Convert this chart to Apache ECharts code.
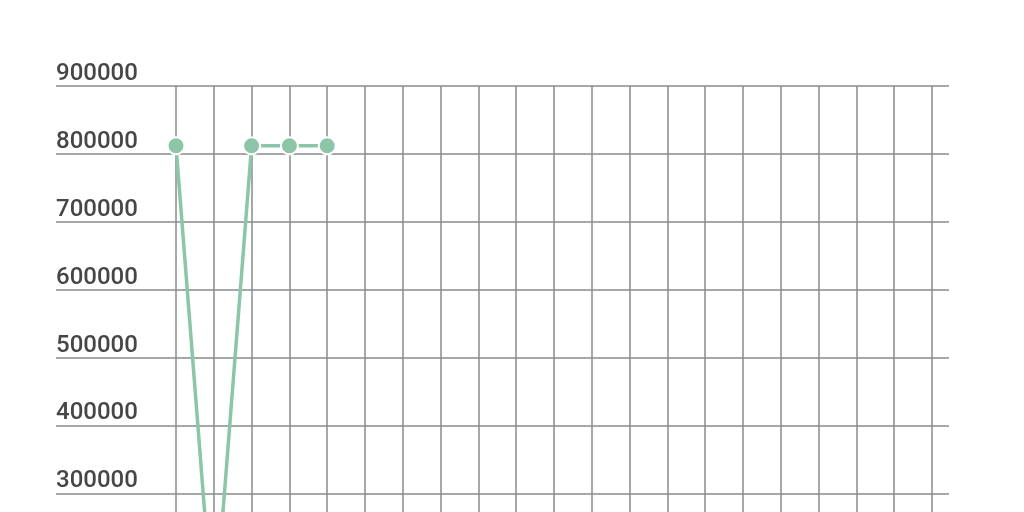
<!DOCTYPE html>
<html>
<head>
<meta charset="utf-8">
<script src="https://cdn.jsdelivr.net/npm/echarts@6/dist/echarts.min.js"></script>
<style>
html, body { margin: 0; padding: 0; overflow: hidden; background: #fff; }
#chart { width: 1024px; height: 760px; }
</style>
</head>
<body>
<div id="chart"></div>
<script>
const categories = ['1','2','3','4','5','6','7','8','9','10','11','12','13','14','15','16','17','18','19','20','21'];
const values = [812000, 100000, 812000, 812000, 812000];
const yMin = 0;
const yMax = 900000;
const yInterval = 100000;

const chart = echarts.init(document.getElementById('chart'), null, { renderer: 'canvas' });
const gridColor = '#8a8a8a';
chart.setOption({
  animation: false,
  backgroundColor: '#fff',
  grid: [
    { left: 56, right: 75, top: 86, bottom: 63 },
    { left: 176, right: 92, top: 86, bottom: 63 }
  ],
  xAxis: [
    { gridIndex: 0, type: 'category', data: [''], show: false },
    {
      gridIndex: 1, type: 'category', data: categories, boundaryGap: false,
      axisLine: { show: false }, axisTick: { show: false }, axisLabel: { show: false },
      splitLine: { show: true, lineStyle: { color: gridColor, width: 1.5 } }
    }
  ],
  yAxis: [
    {
      gridIndex: 0, type: 'value', min: yMin, max: yMax, interval: yInterval,
      axisLine: { show: false }, axisTick: { show: false },
      axisLabel: {
        inside: true, margin: 0, verticalAlign: 'bottom',
        fontFamily: 'Roboto', fontSize: 24, fontWeight: 500, color: '#464646',
        lineHeight: 24, padding: [0, 0, 0, 0],
        formatter: function (v) { return String(v); }
      },
      splitLine: { show: true, lineStyle: { color: gridColor, width: 1.5 } }
    },
    { gridIndex: 1, type: 'value', min: yMin, max: yMax, interval: yInterval, show: false, splitLine: { show: false } }
  ],
  series: [{
    type: 'line',
    xAxisIndex: 1, yAxisIndex: 1,
    data: values,
    symbol: 'circle', symbolSize: 17,
    lineStyle: { color: '#8cc5a7', width: 3.5 },
    itemStyle: { color: '#8cc5a7', borderColor: '#fff', borderWidth: 2 }
  }]
});
</script>
</body>
</html>
